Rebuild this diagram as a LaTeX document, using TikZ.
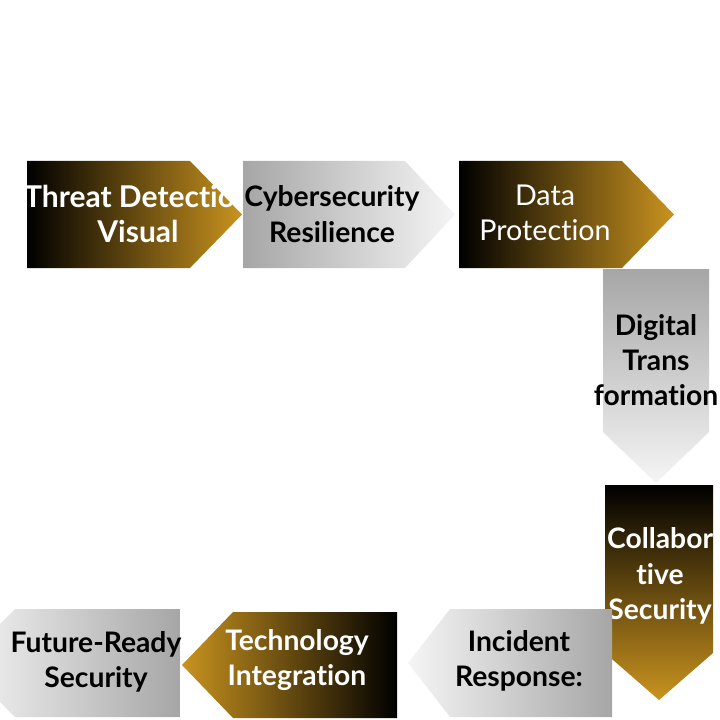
\documentclass[tikz,border=0pt]{standalone}
\usepackage{fontspec}
\setmainfont{Lato}[Ligatures=NoCommon]
\usepackage{tikz}
\definecolor{gold}{RGB}{201,147,31}
\definecolor{midgray}{RGB}{166,166,166}
\definecolor{palegray}{RGB}{245,245,245}

\begin{document}
\begin{tikzpicture}[x=0.75pt,y=-0.75pt,
  darkgold/.style={left color=black,right color=gold},
  golddark/.style={left color=gold,right color=black},
  grayfade/.style={left color=midgray,right color=palegray},
  fadegray/.style={left color=palegray,right color=midgray},
  lbl/.style={align=center,font=\bfseries\fontsize{21.2}{26.5}\selectfont},
  wlbl/.style={lbl,text=white}]
 \useasboundingbox (0,0) rectangle (720,720);
 \clip (0,0) rectangle (720,720);

 % top row
 \shade[darkgold] (27,161) -- (190,161) -- (242,214.5) -- (190,268) -- (27,268) -- cycle;
 \draw (138,214) node[wlbl,font=\bfseries\fontsize{22.5}{26.5}\selectfont] (threat) {Threat Detection\\Visual};
 \shade[grayfade] (243,161) -- (405,161) -- (455,214.5) -- (405,268) -- (243,268) -- cycle;
 \draw (332,214) node[lbl] (cyber) {Cybersecurity\\Resilience};
 \shade[darkgold] (459,161) -- (622,161) -- (674,214.5) -- (622,268) -- (459,268) -- cycle;
 \draw (545,213) node[wlbl,font=\fontsize{21.5}{26.5}\selectfont] (data) {Data\\Protection};

 % right column
 \shade[top color=midgray,bottom color=palegray] (603,269) -- (709,269) -- (709,432) -- (656,483) -- (603,432) -- cycle;
 \draw (656,360) node[lbl] (digital) {Digital\\Trans\\formation};
 \shade[top color=black,bottom color=gold] (605,485) -- (713,485) -- (713,653) -- (659,700) -- (605,653) -- cycle;
 \draw (660,576) node[wlbl] (collab) {Collabor\\tive\\Security};

 % bottom row
 \shade[fadegray] (408,663) -- (450,609) -- (612,609) -- (612,717) -- (450,717) -- cycle;
 \draw (519,661) node[lbl] (incident) {Incident\\Response:};
 \shade[golddark] (182,665) -- (233,612) -- (397,612) -- (397,718) -- (233,718) -- cycle;
 \draw (297,660) node[wlbl] (tech) {Technology\\Integration};
 \shade[fadegray] (-39,663) -- (15,609) -- (180,609) -- (180,717) -- (15,717) -- cycle;
 \draw (96,662) node[lbl] (future) {Future-Ready\\Security};
\end{tikzpicture}
\end{document}
